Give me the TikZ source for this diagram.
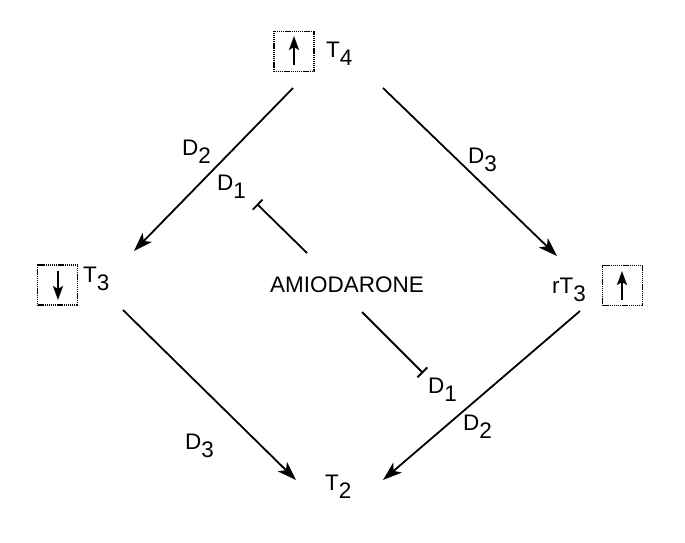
\documentclass[tikz,border=0pt]{standalone}
\usepackage{fontspec}
\setmainfont{Liberation Sans}
\usetikzlibrary{arrows.meta}
\newcommand\lowsub[1]{\raisebox{-0.38em}{#1}}
\begin{document}
\begin{tikzpicture}[x=1pt,y=-1pt,
  lbl/.style={anchor=base west,inner sep=0pt,font=\fontsize{22.5}{26}\selectfont},
  conv/.style={line width=1.8pt,-{Stealth[length=19pt,width=13pt,inset=5pt]}},
  inhib/.style={line width=1.8pt,-{Bar[width=14pt,line width=1.8pt]}},
  statebox/.style={draw,dash pattern=on 1.2pt off 0.7pt,line width=1.8pt,minimum width=40pt,minimum height=40pt,inner sep=0pt},
  boxarrow/.style={line width=2pt,-{Stealth[length=14pt,width=10pt,inset=3pt]}}]
\useasboundingbox (0,0) rectangle (685,543);
% labels
\node[lbl] (t4) at (326,57) {T\lowsub{4}};
\node[lbl] (t3) at (83,282) {T\lowsub{3}};
\node[lbl] (rt3) at (552,293) {rT\lowsub{3}};
\node[lbl] (amio) at (270,292) {AMIODARONE};
\node[lbl] (t2) at (325,490) {T\lowsub{2}};
\node[lbl] (d2a) at (182,155) {D\lowsub{2}};
\node[lbl] (d1a) at (217,190) {D\lowsub{1}};
\node[lbl] (d3a) at (468,163) {D\lowsub{3}};
\node[lbl] (d3b) at (185,449) {D\lowsub{3}};
\node[lbl] (d1b) at (428,393) {D\lowsub{1}};
\node[lbl] (d2b) at (463,430) {D\lowsub{2}};
% boxes
\node[statebox] (bt4) at (294,51.5) {};
\node[statebox] (bt3) at (57.5,285) {};
\node[statebox] (brt3) at (622.5,285.5) {};
\coordinate (bt4s) at (294,65); \coordinate (bt4e) at (294,36);
\coordinate (bt3s) at (58,271); \coordinate (bt3e) at (58,300);
\coordinate (brt3s) at (622,300); \coordinate (brt3e) at (622,271);
\draw[boxarrow] (bt4s) -- (bt4e);
\draw[boxarrow] (bt3s) -- (bt3e);
\draw[boxarrow] (brt3s) -- (brt3e);
% connectors
\coordinate (a1s) at (293,88);  \coordinate (a1e) at (134,251);
\coordinate (a2s) at (383,88);  \coordinate (a2e) at (557,256);
\coordinate (a3s) at (123,310); \coordinate (a3e) at (296,480);
\coordinate (a4s) at (580,311); \coordinate (a4e) at (383,480);
\draw[conv] (a1s) -- (a1e);
\draw[conv] (a2s) -- (a2e);
\draw[conv] (a3s) -- (a3e);
\draw[conv] (a4s) -- (a4e);
\coordinate (i1s) at (307,253); \coordinate (i1e) at (257,204);
\coordinate (i2s) at (362,312); \coordinate (i2e) at (423,373);
\draw[inhib] (i1s) -- (i1e);
\draw[inhib] (i2s) -- (i2e);
\end{tikzpicture}
\end{document}
